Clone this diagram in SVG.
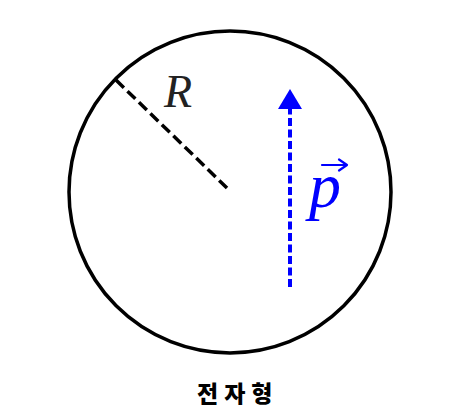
<svg xmlns="http://www.w3.org/2000/svg" width="474" height="413" viewBox="0 0 474 413">
<style>
.math{font-family:"Liberation Serif","DejaVu Serif",serif;font-style:italic}
</style>
<defs>
<marker id="ah" markerWidth="5" markerHeight="6" refX="0.5" refY="3" orient="auto" markerUnits="strokeWidth">
<path d="M0,0 L5,3 L0,6 Z" fill="#0000ff"/>
</marker>
</defs>
<rect width="474" height="413" fill="#fff"/>
<g id="sphere">
<circle cx="230" cy="192" r="161" fill="none" stroke="#000" stroke-width="3.5"/>
</g>
<g id="connectors">
<line id="radius" x1="116" y1="80" x2="227" y2="188" stroke="#000" stroke-width="3.5" stroke-dasharray="11 5"/>
<line id="dipole" x1="290" y1="287" x2="290" y2="107" stroke="#0000ff" stroke-width="4" stroke-dasharray="8 3.5" marker-end="url(#ah)"/>
</g>
<g id="label-R">
<text class="math" x="164" y="107" font-size="46" fill="#222">R</text>
</g>
<g id="label-p">
<text class="math" x="309" y="207" font-size="64" fill="#0000ff">p</text>
<path d="M322,165 H345 M339,159.5 L347,165 L339,170.5" fill="none" stroke="#0000ff" stroke-width="2.2" stroke-linejoin="round" stroke-linecap="round"/>
</g>
<g id="caption">
<text x="197" y="402" font-family="Noto Sans CJK KR,sans-serif" font-weight="900" font-size="23" letter-spacing="6" fill="#000">전자형</text>
</g>
</svg>
